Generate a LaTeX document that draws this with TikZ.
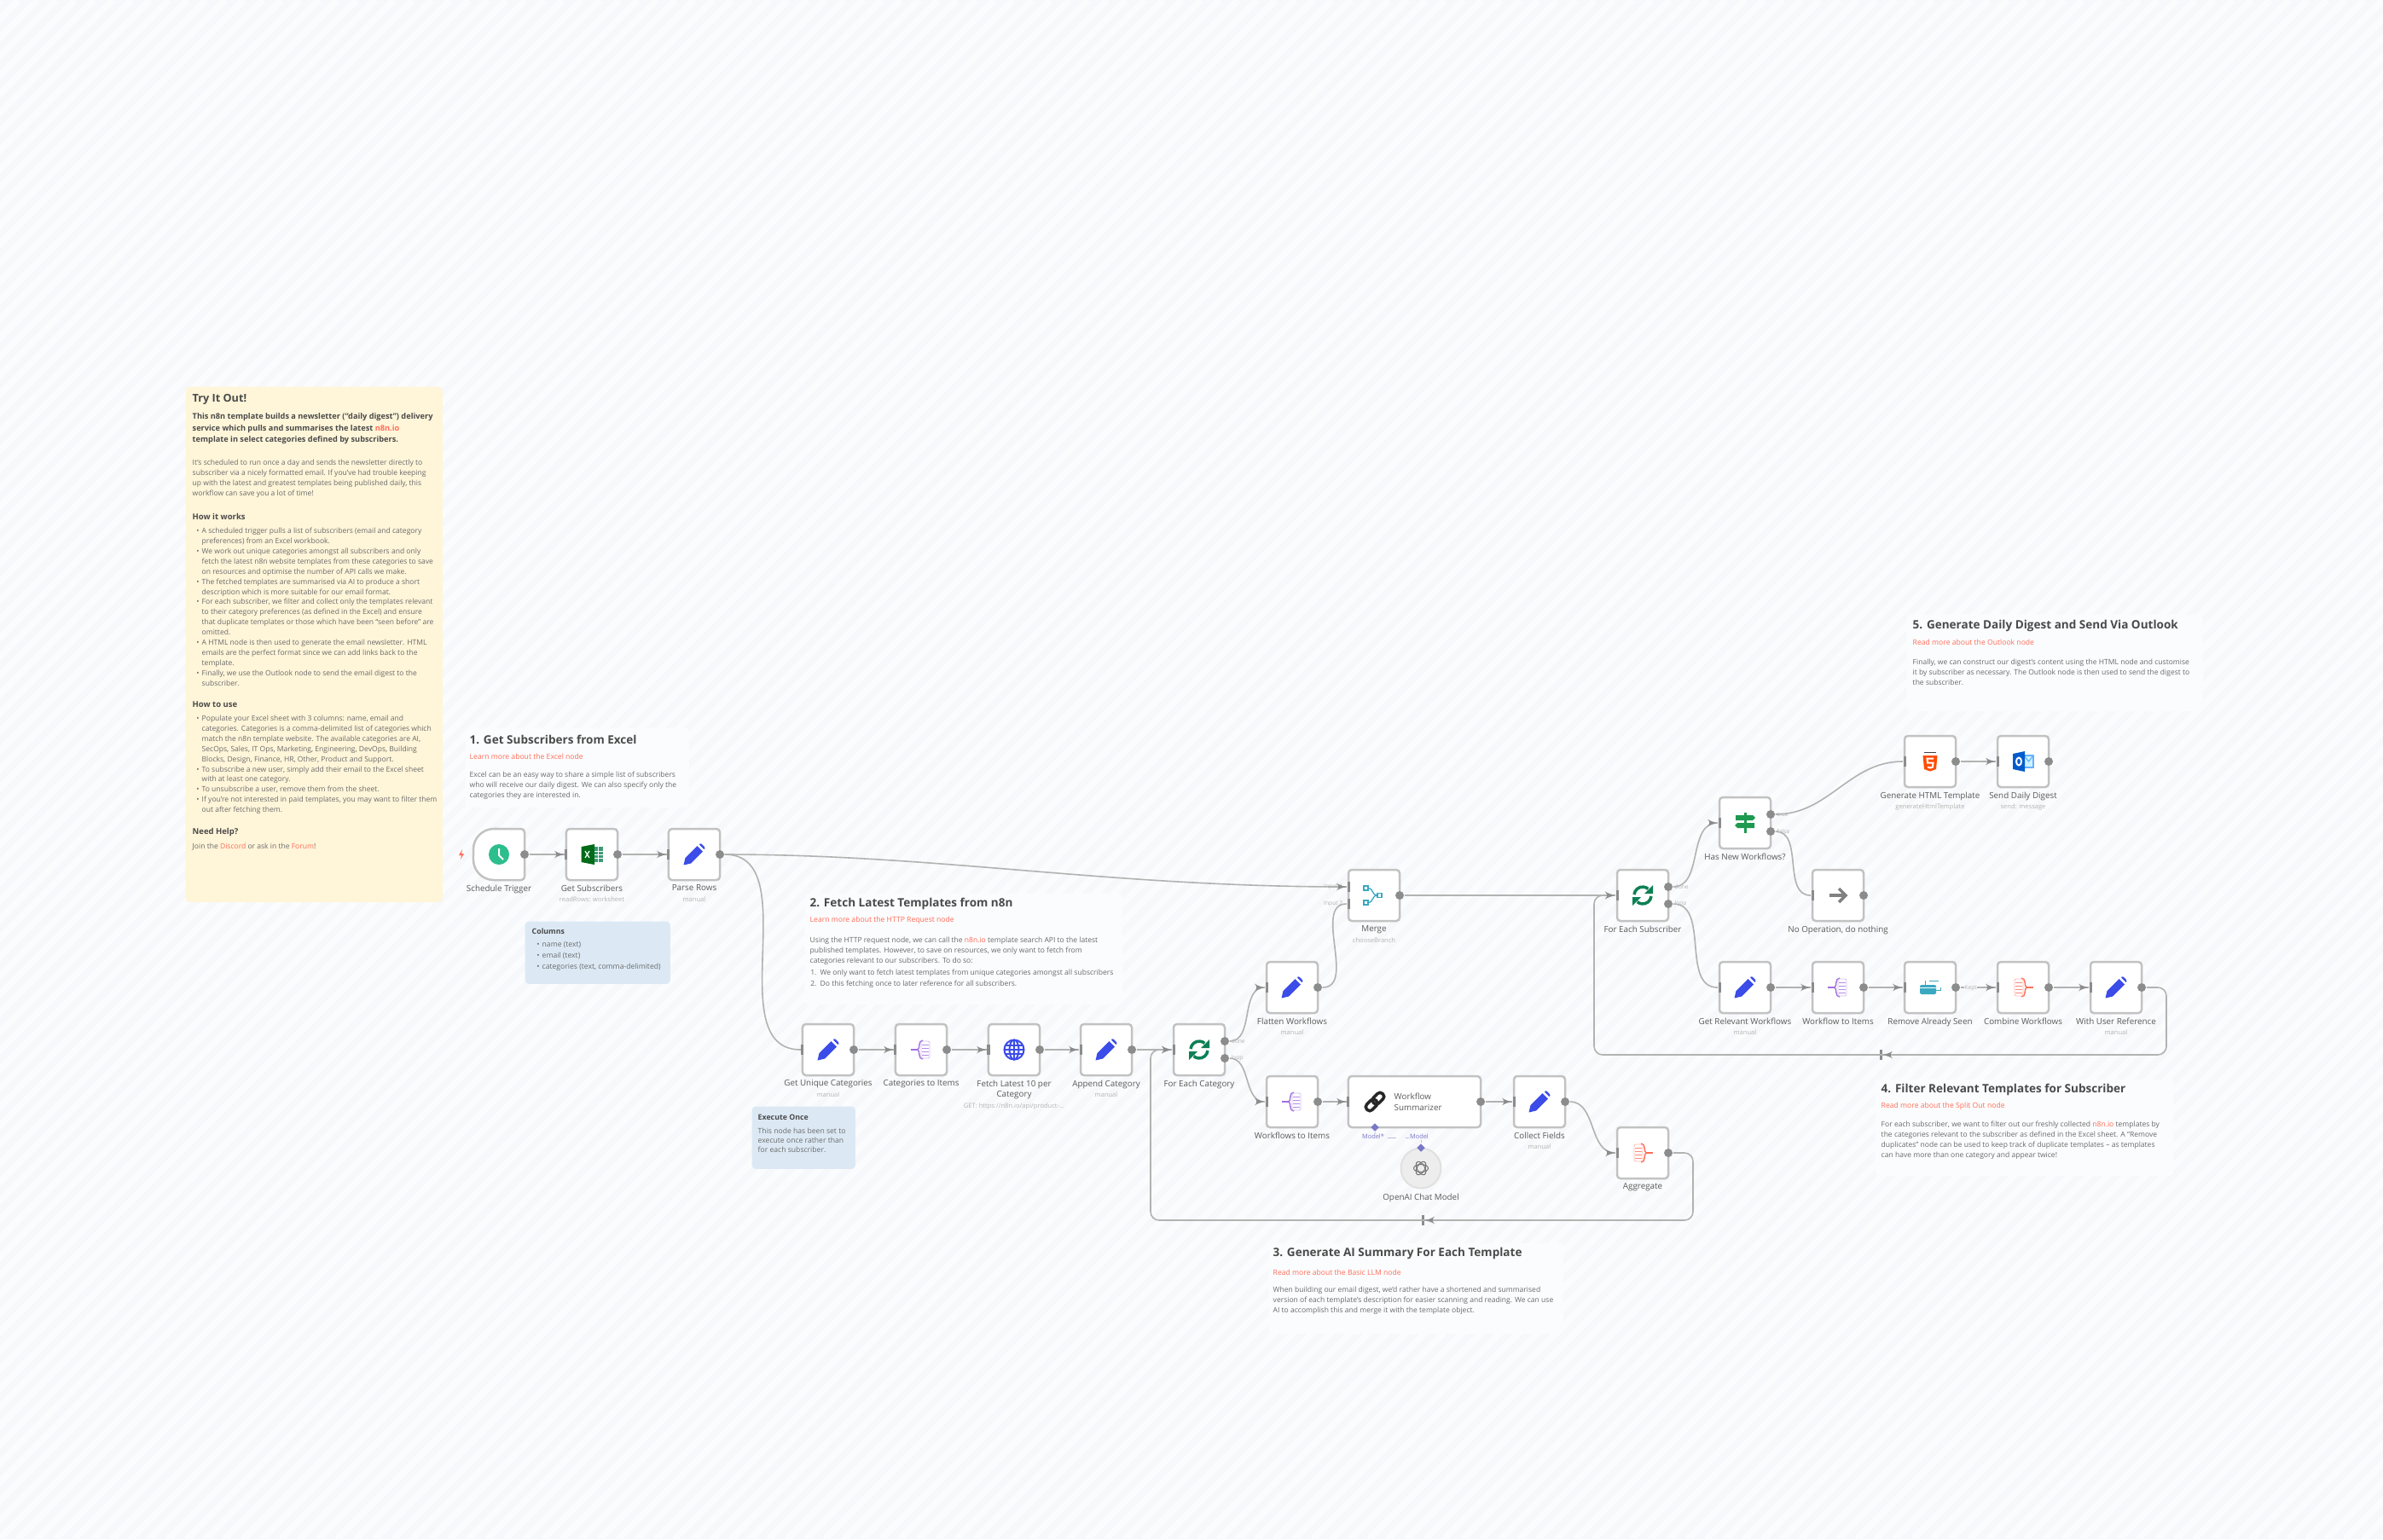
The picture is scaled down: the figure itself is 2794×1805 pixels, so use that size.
\documentclass[tikz,border=0pt]{standalone}
\usepackage{fontspec}
\setmainfont{Open Sans}
\usetikzlibrary{arrows}
\usetikzlibrary{decorations.markings}
\usetikzlibrary{positioning}
\usetikzlibrary{shapes.geometric}

\definecolor{canvasbg}{HTML}{F7F8FB}
\definecolor{canvasstripe}{HTML}{FBFCFD}
\definecolor{notewhite}{HTML}{FBFCFD}
\definecolor{noteyellow}{HTML}{FFF5D9}
\definecolor{noteblue}{HTML}{DCE9F5}
\definecolor{boxgrey}{HTML}{C2C2C2}
\definecolor{wiregrey}{HTML}{B2B2B2}
\definecolor{portgrey}{HTML}{8C8C8C}
\definecolor{labelgrey}{HTML}{5A5A5A}
\definecolor{subgrey}{HTML}{B4B4B4}
\definecolor{headgrey}{HTML}{4A4A4A}
\definecolor{bodygrey}{HTML}{6A6A6A}
\definecolor{linkred}{HTML}{FF6D5A}
\definecolor{penblue}{HTML}{3B4CE8}
\definecolor{loopgreen}{HTML}{0C8055}
\definecolor{clockgreen}{HTML}{2DBE8E}
\definecolor{signgreen}{HTML}{1E9950}
\definecolor{splitpurple}{HTML}{A06FE0}
\definecolor{mergeteal}{HTML}{3AA8C1}
\definecolor{aipurple}{HTML}{7A78C8}

\tikzset{wire/.style = {draw=wiregrey, line width=0.016cm,
                        decoration={markings,
                                    mark=at position 1 with {\arrow[scale=0.8, color=portgrey]{latex'}}},
                        postaction={decorate}}}
\tikzset{wfbox/.style = {draw=boxgrey, fill=white, line width=0.025cm, rounded corners=0.04cm,
                         minimum width=0.6cm, minimum height=0.6cm, inner sep=0, outer sep=0}}
\tikzset{wflabel/.style = {anchor=north, inner sep=0, align=center, text=labelgrey,
                           font=\fontsize{2.8}{3.6}\selectfont}}
\tikzset{portlabel/.style = {inner sep=0, text=subgrey, font=\fontsize{1.9}{2.2}\selectfont}}
\tikzset{inport/.style = {fill=portgrey, inner sep=0, minimum width=0.03cm, minimum height=0.12cm}}
\tikzset{outport/.style = {fill=portgrey, circle, inner sep=0, minimum size=0.1cm}}
\tikzset{aiport/.style = {fill=aipurple, diamond, inner sep=0, minimum size=0.1cm}}
\tikzset{notebox/.style = {anchor=north west, fill=notewhite, rounded corners=0.04cm, inner sep=0}}
\tikzset{notehead/.style = {anchor=west, inner sep=0, text=headgrey, font=\bfseries\fontsize{3.85}{4.5}\selectfont}}
\tikzset{notelink/.style = {anchor=west, inner sep=0, text=linkred, font=\fontsize{2.45}{3}\selectfont}}
\tikzset{notetext/.style = {anchor=north west, inner sep=0, align=left, text=bodygrey,
                            font=\fontsize{2.43}{3.4}\selectfont}}

\newcommand{\wfsub}[1]{{\fontsize{2.15}{2.4}\selectfont\color{subgrey}#1}}
\newcommand{\lnk}[1]{\textcolor{linkred}{#1}}
\newcommand{\bul}{\llap{\textbullet\hspace{0.9pt}}}

% icons, drawn round the centre of a box
\newcommand{\penicon}[1]{\begin{scope}[shift={(#1)}]
  \fill [penblue] (-12.5, 12.5) -- (-10.5, 4) -- (3.5, -10) -- (10, -3.5) -- (-4, 10.5) -- cycle;
  \fill [penblue, rounded corners=0.01cm] (5.5, -12) -- (8, -13) -- (12.5, -8.5) -- (12, -5.5) -- cycle;
\end{scope}}
\newcommand{\loopicon}[1]{\begin{scope}[shift={(#1)}]
  \foreach \r in {0, 180} {
    \begin{scope}[rotate=\r]
      \draw [loopgreen, line width=0.035cm] (-10, -1) arc [start angle=174, end angle=50, radius=0.1cm];
      \fill [loopgreen] (12, -12) -- (12, -2) -- (2, -2) -- cycle;
    \end{scope}}
\end{scope}}
\newcommand{\spliticon}[3]{\begin{scope}[shift={(#1)}, xscale=#3]
  \draw [#2, line width=0.014cm] (-12, 0) -- (-4, 0);
  \draw [#2, line width=0.014cm] (2, -11) .. controls (-4, -11) and (-1, -1) .. (-4, 0) .. controls (-1, 1) and (-4, 11) .. (2, 11);
  \draw [#2!45, line width=0.008cm, rounded corners=0.02cm] (0, -10) rectangle (10, 10);
  \foreach \y in {-6, -2, 2, 6} {
    \draw [#2!80, line width=0.01cm] (1, \y) -- (9, \y);}
\end{scope}}
\newcommand{\globeicon}[1]{\begin{scope}[shift={(#1)}, draw=penblue, line width=0.02cm]
  \draw (0, 0) circle [radius=0.115cm];
  \draw (0, 0) circle [x radius=0.055cm, y radius=0.115cm];
  \draw (0, -11.5) -- (0, 11.5);
  \draw (-11.5, 0) -- (11.5, 0);
  \draw (-10, -5) -- (10, -5);
  \draw (-10, 5) -- (10, 5);
\end{scope}}

\begin{document}
\begin{tikzpicture}[x=0.01cm, y=-0.01cm]
  \useasboundingbox (0, 0) rectangle (2794, 1805);
  \fill [canvasbg] (0, 0) rectangle (2794, 1805);
  \begin{scope}
    \clip (0, 0) rectangle (2794, 1805);
    \foreach \s in {-1805, -1783, ..., 2794} {
      \draw [canvasstripe, line width=0.08cm] (\s, 1805) -- ({\s + 1805}, 0);}
  \end{scope}

  % sticky notes
  \node [notebox, fill=noteyellow, minimum width=3.01cm, minimum height=6.04cm] (tryoutnote) at (217, 453) {};
  \node [notehead, font=\bfseries\fontsize{3.6}{4}\selectfont] (tryouthead) at (225, 468) {Try It Out!};
  \node [notetext, font=\bfseries\fontsize{2.62}{3.85}\selectfont, text=headgrey] (tryoutintro) at (225, 484) {This n8n template builds a newsletter (``daily digest'') delivery\\
    service which pulls and summarises the latest \lnk{n8n.io}\\
    template in select categories defined by subscribers.};
  \node [notetext] (tryoutpara) at (225, 538) {It's scheduled to run once a day and sends the newsletter directly to\\
    subscriber via a nicely formatted email. If you've had trouble keeping\\
    up with the latest and greatest templates being published daily, this\\
    workflow can save you a lot of time!};
  \node [notehead, font=\bfseries\fontsize{2.7}{3}\selectfont] (workshead) at (225, 606) {How it works};
  \node [notetext] (worksitems) at (236, 618) {\bul A scheduled trigger pulls a list of subscribers (email and category\\
    preferences) from an Excel workbook.\\
    \bul We work out unique categories amongst all subscribers and only\\
    fetch the latest n8n website templates from these categories to save\\
    on resources and optimise the number of API calls we make.\\
    \bul The fetched templates are summarised via AI to produce a short\\
    description which is more suitable for our email format.\\
    \bul For each subscriber, we filter and collect only the templates relevant\\
    to their category preferences (as defined in the Excel) and ensure\\
    that duplicate templates or those which have been ``seen before'' are\\
    omitted.\\
    \bul A HTML node is then used to generate the email newsletter. HTML\\
    emails are the perfect format since we can add links back to the\\
    template.\\
    \bul Finally, we use the Outlook node to send the email digest to the\\
    subscriber.};
  \node [notehead, font=\bfseries\fontsize{2.7}{3}\selectfont] (usehead) at (225, 826) {How to use};
  \node [notetext] (useitems) at (236, 838) {\bul Populate your Excel sheet with 3 columns: name, email and\\
    categories. Categories is a comma-delimited list of categories which\\
    match the n8n template website. The available categories are AI,\\
    SecOps, Sales, IT Ops, Marketing, Engineering, DevOps, Building\\
    Blocks, Design, Finance, HR, Other, Product and Support.\\
    \bul To subscribe a new user, simply add their email to the Excel sheet\\
    with at least one category.\\
    \bul To unsubscribe a user, remove them from the sheet.\\
    \bul If you're not interested in paid templates, you may want to filter them\\
    out after fetching them.};
  \node [notehead, font=\bfseries\fontsize{2.7}{3}\selectfont] (helphead) at (225, 976) {Need Help?};
  \node [notetext] (helptext) at (225, 988) {Join the \lnk{Discord} or ask in the \lnk{Forum}!};

  \node [notebox, minimum width=2.62cm, minimum height=0.93cm] (excelnote) at (545, 853) {};
  \node [notehead] (excelhead) at (550, 867) {1. Get Subscribers from Excel};
  \node [notelink] (excellink) at (550, 887) {Learn more about the Excel node};
  \node [notetext] (exceltext) at (550, 904) {Excel can be an easy way to share a simple list of subscribers\\
    who will receive our daily digest. We can also specify only the\\
    categories they are interested in.};

  \node [notebox, fill=noteblue, minimum width=1.7cm, minimum height=0.73cm] (columnsnote) at (615, 1080) {};
  \node [notehead, font=\bfseries\fontsize{2.5}{3}\selectfont] (columnshead) at (623, 1092) {Columns};
  \node [notetext, font=\fontsize{2.45}{3.6}\selectfont] (columnstext) at (635, 1104) {\bul name (text)\\
    \bul email (text)\\
    \bul categories (text, comma-delimited)};

  \node [notebox, minimum width=3.72cm, minimum height=1.3cm] (templatesnote) at (943, 1047) {};
  \node [notehead] (templateshead) at (949, 1060) {2. Fetch Latest Templates from n8n};
  \node [notelink] (templateslink) at (949, 1079) {Learn more about the HTTP Request node};
  \node [notetext] (templatestext) at (949, 1098) {Using the HTTP request node, we can call the \lnk{n8n.io} template search API to the latest\\
    published templates. However, to save on resources, we only want to fetch from\\
    categories relevant to our subscribers. To do so:};
  \node [notetext] (templateslist) at (961, 1136) {\llap{1.\hspace{1.2pt}}We only want to fetch latest templates from unique categories amongst all subscribers\\[0.5pt]
    \llap{2.\hspace{1.2pt}}Do this fetching once to later reference for all subscribers.};

  \node [notebox, fill=noteblue, minimum width=1.21cm, minimum height=0.73cm] (oncenote) at (881, 1297) {};
  \node [notehead, font=\bfseries\fontsize{2.5}{3}\selectfont] (oncehead) at (888, 1310) {Execute Once};
  \node [notetext, font=\fontsize{2.45}{3.2}\selectfont] (oncetext) at (888, 1322) {This node has been set to\\
    execute once rather than\\
    for each subscriber.};

  \node [notebox, minimum width=3.45cm, minimum height=1.06cm] (summarynote) at (1487, 1457) {};
  \node [notehead] (summaryhead) at (1492, 1470) {3. Generate AI Summary For Each Template};
  \node [notelink] (summarylink) at (1492, 1492) {Read more about the Basic LLM node};
  \node [notetext] (summarytext) at (1492, 1508) {When building our email digest, we'd rather have a shortened and summarised\\
    version of each template's description for easier scanning and reading. We can use\\
    AI to accomplish this and merge it with the template object.};

  \node [notebox, minimum width=3.49cm, minimum height=1.13cm] (filternote) at (2198, 1265) {};
  \node [notehead] (filterhead) at (2205, 1278) {4. Filter Relevant Templates for Subscriber};
  \node [notelink] (filterlink) at (2205, 1297) {Read more about the Split Out node};
  \node [notetext] (filtertext) at (2205, 1314) {For each subscriber, we want to filter out our freshly collected \lnk{n8n.io} templates by\\
    the categories relevant to the subscriber as defined in the Excel sheet. A ``Remove\\
    duplicates'' node can be used to keep track of duplicate templates -- as templates\\
    can have more than one category and appear twice!};

  \node [notebox, minimum width=3.47cm, minimum height=1.13cm] (outlooknote) at (2235, 720) {};
  \node [notehead] (outlookhead) at (2242, 734) {5. Generate Daily Digest and Send Via Outlook};
  \node [notelink] (outlooklink) at (2242, 753) {Read more about the Outlook node};
  \node [notetext] (outlooktext) at (2242, 772) {Finally, we can construct our digest's content using the HTML node and customise\\
    it by subscriber as necessary. The Outlook node is then used to send the digest to\\
    the subscriber.};

  % workflow boxes
  \node [inner sep=0, minimum width=0.6cm, minimum height=0.6cm, outer sep=0] (trigger) at (585, 1002) {};
  \draw [draw=boxgrey, fill=white, line width=0.025cm] (579, 972) -- (611, 972) arc [start angle=90, end angle=0, radius=0.04cm]
    -- (615, 1028) arc [start angle=0, end angle=-90, radius=0.04cm]
    -- (579, 1032) arc [start angle=270, end angle=180, radius=0.24cm]
    -- (555, 996) arc [start angle=180, end angle=90, radius=0.24cm] -- cycle;
  \node [wfbox] (getsubs) at (694, 1002) {};
  \node [wfbox] (parserows) at (814, 1002) {};
  \node [wfbox] (getunique) at (971, 1231) {};
  \node [wfbox] (catitems) at (1080, 1231) {};
  \node [wfbox] (fetchlatest) at (1189, 1231) {};
  \node [wfbox] (appendcat) at (1297, 1231) {};
  \node [wfbox] (eachcat) at (1406, 1231) {};
  \node [wfbox] (flatten) at (1515, 1158) {};
  \node [wfbox] (wfitems) at (1515, 1292) {};
  \node [wfbox, minimum width=1.55cm] (summarizer) at (1658.5, 1292) {};
  \node [wfbox] (collect) at (1805, 1292) {};
  \node [wfbox] (aggregate) at (1926, 1352) {};
  \node [wfbox] (merge) at (1611, 1050) {};
  \node [wfbox] (eachsub) at (1926, 1050) {};
  \node [wfbox] (hasnew) at (2046, 965) {};
  \node [wfbox] (noop) at (2155, 1050) {};
  \node [wfbox] (htmltpl) at (2263, 893) {};
  \node [wfbox] (senddigest) at (2372, 893) {};
  \node [wfbox] (getrelevant) at (2046, 1158) {};
  \node [wfbox] (relitems) at (2155, 1158) {};
  \node [wfbox] (removeseen) at (2263, 1158) {};
  \node [wfbox] (combine) at (2372, 1158) {};
  \node [wfbox] (withuser) at (2481, 1158) {};
  \node [draw=black!12, fill=black!7, circle, line width=0.02cm, minimum size=0.47cm, inner sep=0] (chatmodel) at (1666, 1370) {};

  % box labels
  \node [wflabel, below=0.05cm of trigger] (triggerlabel) {Schedule Trigger};
  \node [wflabel, below=0.05cm of getsubs] (getsubslabel) {Get Subscribers\\\wfsub{readRows: worksheet}};
  \node [wflabel, below=0.05cm of parserows] (parserowslabel) {Parse Rows\\\wfsub{manual}};
  \node [wflabel, below=0.05cm of getunique] (getuniquelabel) {Get Unique Categories\\\wfsub{manual}};
  \node [wflabel, below=0.05cm of catitems] (catitemslabel) {Categories to Items};
  \node [wflabel, below=0.05cm of fetchlatest] (fetchlatestlabel) {Fetch Latest 10 per\\Category\\\wfsub{GET: https://n8n.io/api/product-...}};
  \node [wflabel, below=0.05cm of appendcat] (appendcatlabel) {Append Category\\\wfsub{manual}};
  \node [wflabel, below=0.05cm of eachcat] (eachcatlabel) {For Each Category};
  \node [wflabel, below=0.05cm of flatten] (flattenlabel) {Flatten Workflows\\\wfsub{manual}};
  \node [wflabel, below=0.05cm of wfitems] (wfitemslabel) {Workflows to Items};
  \node [wflabel, below=0.05cm of collect] (collectlabel) {Collect Fields\\\wfsub{manual}};
  \node [wflabel, below=0.05cm of aggregate] (aggregatelabel) {Aggregate};
  \node [wflabel, below=0.05cm of merge] (mergelabel) {Merge\\\wfsub{chooseBranch}};
  \node [wflabel, below=0.05cm of eachsub] (eachsublabel) {For Each Subscriber};
  \node [wflabel, below=0.05cm of hasnew] (hasnewlabel) {Has New Workflows?};
  \node [wflabel, below=0.05cm of noop] (nooplabel) {No Operation, do nothing};
  \node [wflabel, below=0.05cm of htmltpl] (htmltpllabel) {Generate HTML Template\\\wfsub{generateHtmlTemplate}};
  \node [wflabel, below=0.05cm of senddigest] (senddigestlabel) {Send Daily Digest\\\wfsub{send: message}};
  \node [wflabel, below=0.05cm of getrelevant] (getrelevantlabel) {Get Relevant Workflows\\\wfsub{manual}};
  \node [wflabel, below=0.05cm of relitems] (relitemslabel) {Workflow to Items};
  \node [wflabel, below=0.05cm of removeseen] (removeseenlabel) {Remove Already Seen};
  \node [wflabel, below=0.05cm of combine] (combinelabel) {Combine Workflows};
  \node [wflabel, below=0.05cm of withuser] (withuserlabel) {With User Reference\\\wfsub{manual}};
  \node [wflabel, below=0.05cm of chatmodel] (chatmodellabel) {OpenAI Chat Model};
  \node [wflabel, anchor=west, align=left] (summarizerlabel) at (1634, 1292) {Workflow\\Summarizer};

  % ports
  \foreach \n in {getsubs, parserows, getunique, catitems, fetchlatest, appendcat, eachcat, flatten, wfitems,
                  summarizer, collect, aggregate, eachsub, hasnew, noop, htmltpl, senddigest, getrelevant,
                  relitems, removeseen, combine, withuser} {
    \node [inport] (\n-in) at (\n.west) {};}
  \foreach \n in {trigger, getsubs, parserows, catitems, fetchlatest, appendcat, getunique, flatten, wfitems,
                  summarizer, collect, aggregate, merge, noop, htmltpl, senddigest, getrelevant,
                  relitems, removeseen, combine, withuser} {
    \node [outport] (\n-out) at (\n.east) {};}
  \node [inport] (merge-inA) at (1581, 1040) {};
  \node [inport] (merge-inB) at (1581, 1060) {};
  \node [outport] (eachcat-done) at (1436, 1221) {};
  \node [outport] (eachcat-loop) at (1436, 1241) {};
  \node [outport] (eachsub-done) at (1956, 1040) {};
  \node [outport] (eachsub-loop) at (1956, 1060) {};
  \node [outport] (hasnew-true) at (2076, 955) {};
  \node [outport] (hasnew-false) at (2076, 975) {};
  \node [inport] (eachcat-mid) at (1668, 1431) {};
  \node [inport] (eachsub-mid) at (2205, 1237) {};
  \coordinate (eachcat-midstart) at (1685, 1431);
  \coordinate (eachsub-midstart) at (2222, 1237);

  % port labels
  \node [portlabel, anchor=east] (mergeinAlabel) at (1575, 1040) {Input 1};
  \node [portlabel, anchor=east] (mergeinBlabel) at (1575, 1060) {Input 2};
  \node [portlabel, anchor=west] (eachcatdonelabel) at (1443, 1221) {done};
  \node [portlabel, anchor=west] (eachcatlooplabel) at (1443, 1241) {loop};
  \node [portlabel, anchor=west] (eachsubdonelabel) at (1963, 1040) {done};
  \node [portlabel, anchor=west] (eachsublooplabel) at (1963, 1060) {loop};
  \node [portlabel, anchor=west] (hasnewtruelabel) at (2083, 955) {true};
  \node [portlabel, anchor=west] (hasnewfalselabel) at (2083, 975) {false};

  % connections
  \draw [wire] (trigger-out) -- (getsubs-in);
  \draw [wire] (getsubs-out) -- (parserows-in);
  \draw [wire] (parserows-out) to [out=0, in=180] (getunique-in);
  \draw [wire] (parserows-out) .. controls (1100, 1002) and (1300, 1040) .. (merge-inA);
  \draw [wire] (getunique-out) -- (catitems-in);
  \draw [wire] (catitems-out) -- (fetchlatest-in);
  \draw [wire] (fetchlatest-out) -- (appendcat-in);
  \draw [wire] (appendcat-out) -- (eachcat-in);
  \draw [wire] (eachcat-done) to [out=0, in=180] (flatten-in);
  \draw [wire] (eachcat-loop) to [out=0, in=180] (wfitems-in);
  \draw [wire] (flatten-out) to [out=0, in=180] (merge-inB);
  \draw [wire] (wfitems-out) -- (summarizer-in);
  \draw [wire] (summarizer-out) -- (collect-in);
  \draw [wire] (collect-out) to [out=0, in=180] (aggregate-in);
  \draw [wire, rounded corners=0.1cm] (aggregate-out) -- (1985, 1352) -- (1985, 1431) -- (1349, 1431) -- (1349, 1231) -- (eachcat-in);
  \draw [wire] (eachcat-midstart) -- (eachcat-mid);
  \draw [wire] (merge-out) -- (eachsub-in);
  \draw [wire] (eachsub-done) to [out=0, in=180] (hasnew-in);
  \draw [wire] (eachsub-loop) to [out=0, in=180] (getrelevant-in);
  \draw [wire] (hasnew-true) to [out=0, in=180] (htmltpl-in);
  \draw [wire] (hasnew-false) to [out=0, in=180] (noop-in);
  \draw [wire] (htmltpl-out) -- (senddigest-in);
  \draw [wire] (getrelevant-out) -- (relitems-in);
  \draw [wire] (relitems-out) -- (removeseen-in);
  \draw [wire] (removeseen-out) -- (combine-in);
  \draw [wire] (combine-out) -- (withuser-in);
  \draw [wire, rounded corners=0.1cm] (withuser-out) -- (2540, 1158) -- (2540, 1237) -- (1869, 1237) -- (1869, 1050) -- (eachsub-in);
  \draw [wire] (eachsub-midstart) -- (eachsub-mid);
  \node [portlabel, fill=canvasbg, anchor=west, inner sep=0.2pt] (removeseenkept) at (2302, 1159) {Kept};

  % model connection
  \node [aiport] (summarizer-model) at (1612, 1322) {};
  \node [aiport] (chatmodel-out) at (1666, 1346) {};
  \draw [aipurple!50, dashed, line width=0.01cm] (summarizer-model) |- (1666, 1334) -- (chatmodel-out);
  \node [portlabel, text=aipurple, fill=canvasbg, inner sep=0.2pt, font=\fontsize{2.1}{2.4}\selectfont] (modellabelA) at (1610, 1333) {Model*};
  \node [portlabel, text=aipurple, fill=canvasbg, inner sep=0.2pt, font=\fontsize{2.1}{2.4}\selectfont] (modellabelB) at (1664, 1333) {Model};

  % icons
  \fill [linkred] (542, 996) -- (538, 1003) -- (541, 1003) -- (540, 1008) -- (544, 1001) -- (541, 1001) -- cycle;
  \begin{scope}[shift={(trigger)}]
    \fill [clockgreen] (0, 0) circle [radius=0.12cm];
    \draw [white, line width=0.02cm] (0, -7) -- (0, 1) -- (5, 6);
  \end{scope}
  \begin{scope}[shift={(getsubs)}]
    \fill [green!40!black!80!teal] (-12.5, -9) -- (3, -12) -- (3, 12) -- (-12.5, 9) -- cycle;
    \fill [loopgreen!80!white] (3, -9) rectangle (12.5, 9);
    \draw [white, line width=0.008cm] (3, -4) -- (12.5, -4) (3, 0) -- (12.5, 0) (3, 4) -- (12.5, 4) (7.5, -9) -- (7.5, 9);
    \draw [white, line width=0.012cm] (-8, -4) -- (-3, 4) (-3, -4) -- (-8, 4);
  \end{scope}
  \penicon{parserows}
  \penicon{getunique}
  \penicon{appendcat}
  \penicon{flatten}
  \penicon{collect}
  \penicon{getrelevant}
  \penicon{withuser}
  \spliticon{catitems}{splitpurple}{1}
  \spliticon{wfitems}{splitpurple}{1}
  \spliticon{relitems}{splitpurple}{1}
  \spliticon{aggregate}{linkred}{-1}
  \spliticon{combine}{linkred}{-1}
  \globeicon{fetchlatest}
  \loopicon{eachcat}
  \loopicon{eachsub}
  \begin{scope}[shift={(merge)}, draw=mergeteal, line width=0.013cm]
    \draw (-12, -11) rectangle (-7, -6);
    \draw (-12, 6) rectangle (-7, 11);
    \draw (4, -2.5) rectangle (9, 2.5);
    \draw (-7, -8.5) .. controls (0, -8) and (-3, 0) .. (4, 0);
    \draw (-7, 8.5) .. controls (0, 8) and (-3, 0) .. (4, 0);
  \end{scope}
  \begin{scope}[shift={(1612, 1292)}, rotate=45, draw=black!85, line width=0.035cm]
    \draw [rounded corners=0.04cm] (-13, -4.5) rectangle (2, 4.5);
    \draw [rounded corners=0.04cm] (-2, -4.5) rectangle (13, 4.5);
  \end{scope}
  \begin{scope}[shift={(chatmodel)}, draw=black!55, line width=0.01cm]
    \foreach \r in {0, 60, 120} {
      \draw [rotate=\r] (0, 0) circle [x radius=0.085cm, y radius=0.045cm];}
  \end{scope}
  \begin{scope}[shift={(hasnew)}]
    \fill [signgreen] (-1.5, -12) rectangle (1.5, 12);
    \fill [signgreen] (-11, -9) -- (9, -9) -- (12, -6) -- (9, -3) -- (-11, -3) -- cycle;
    \fill [signgreen] (11, 0) -- (-9, 0) -- (-12, 3) -- (-9, 6) -- (11, 6) -- cycle;
  \end{scope}
  \begin{scope}[shift={(noop)}, draw=black!50, line width=0.035cm]
    \draw (-10, 0) -- (9, 0);
    \draw (1, -8) -- (9, 0) -- (1, 8);
  \end{scope}
  \begin{scope}[shift={(removeseen)}]
    \draw [mergeteal, dashed, line width=0.01cm] (-6, -8) rectangle (12, 3);
    \fill [mergeteal, rounded corners=0.015cm] (-12, -3) rectangle (7, 8);
    \draw [white, line width=0.008cm] (-12, 0) -- (7, 0);
  \end{scope}
  \begin{scope}[shift={(htmltpl)}]
    \draw [black!75, line width=0.015cm] (-7, -10.5) -- (7, -10.5);
    \fill [orange!60!red] (-8.5, -7) -- (8.5, -7) -- (7, 9) -- (0, 11.5) -- (-7, 9) -- cycle;
    \draw [white, line width=0.02cm] (4, -3.5) -- (-3.5, -3.5) -- (-3, 1.5) -- (3.5, 1.5) -- (3, 6.5) -- (0, 7.5) -- (-3, 6.5);
  \end{scope}
  \begin{scope}[shift={(senddigest)}]
    \fill [blue!25!cyan!20!white] (1, -7) rectangle (12, 7);
    \draw [blue!50!cyan!60!white, line width=0.012cm] (1, -7) rectangle (12, 7);
    \draw [blue!50!cyan!60!white, line width=0.012cm] (1, -7) -- (6.5, 0) -- (12, -7);
    \fill [blue!55!cyan!80!black] (-12, -9) -- (2, -12) -- (2, 12) -- (-12, 9) -- cycle;
    \draw [white, line width=0.02cm] (-5, 0) circle [x radius=0.03cm, y radius=0.045cm];
  \end{scope}
\end{tikzpicture}
\end{document}
